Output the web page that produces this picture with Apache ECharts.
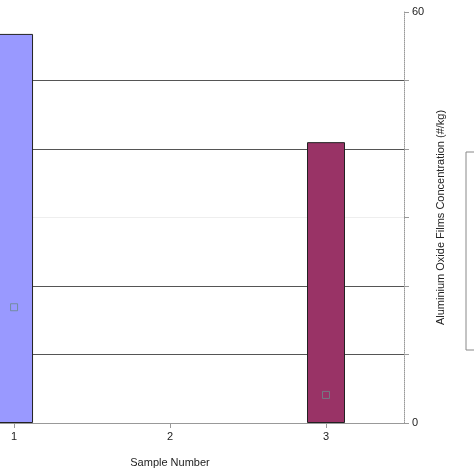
<!DOCTYPE html><html><head><meta charset="utf-8"><script src="https://cdn.jsdelivr.net/npm/echarts@6/dist/echarts.min.js"></script></head><body style="margin:0"><div id="c" style="width:474px;height:474px"></div><script>
const categories=['1','2','3'];
const barValues=[56.8,null,41.0];
const pointValues=[16.9,null,4.1];
const barColors=['#9999ff','#993366','#993366'];
const pos=categories.map(Number);
const ch=echarts.init(document.getElementById('c'));
ch.setOption({animation:false,backgroundColor:'#fff',
grid:{left:0,right:70,top:12,bottom:51,containLabel:false},
xAxis:{type:'value',min:0.91,max:3.5,
axisLine:{lineStyle:{color:'#999'}},splitLine:{show:false},
axisTick:{show:true,customValues:pos,lineStyle:{color:'#999'}},
axisLabel:{customValues:pos,formatter:v=>categories[Math.round(v)-1],fontFamily:'Liberation Sans',fontSize:11,color:'#222'}},
yAxis:{type:'value',position:'right',min:0,max:60,interval:10,name:'Aluminium Oxide Films Concentration (#/kg)',nameLocation:'middle',nameGap:30,nameRotate:90,
nameTextStyle:{fontFamily:'Liberation Sans',fontSize:11,color:'#222'},
axisLine:{show:true,lineStyle:{color:'#999',type:'dotted'}},axisTick:{show:true,lineStyle:{color:'#999'}},
axisLabel:{fontFamily:'Liberation Sans',fontSize:11,color:'#222',formatter:v=>(v===0||v===60)?String(v):''},
splitLine:{lineStyle:{color:['#555','#555','#555','#eee','#555','#555','#fff'],width:1}}},
series:[{type:'bar',barWidth:38,data:barValues.map((v,i)=>({value:[pos[i],v],itemStyle:{color:barColors[i],borderColor:'#222',borderWidth:1}})).filter(d=>d.value[1]!=null)},
{type:'scatter',symbol:'rect',symbolSize:7,data:pointValues.map((v,i)=>[pos[i],v]).filter(d=>d[1]!=null),itemStyle:{color:'transparent',borderColor:'#6a8a8a',borderWidth:1}}],
graphic:[{type:'rect',shape:{x:466,y:152,width:30,height:198},style:{fill:'#fff',stroke:'#888',lineWidth:1}},
{type:'text',x:170,y:457,style:{text:'Sample Number',align:'center',fontFamily:'Liberation Sans',fontSize:11,fill:'#222'}}]
});
</script></body></html>
